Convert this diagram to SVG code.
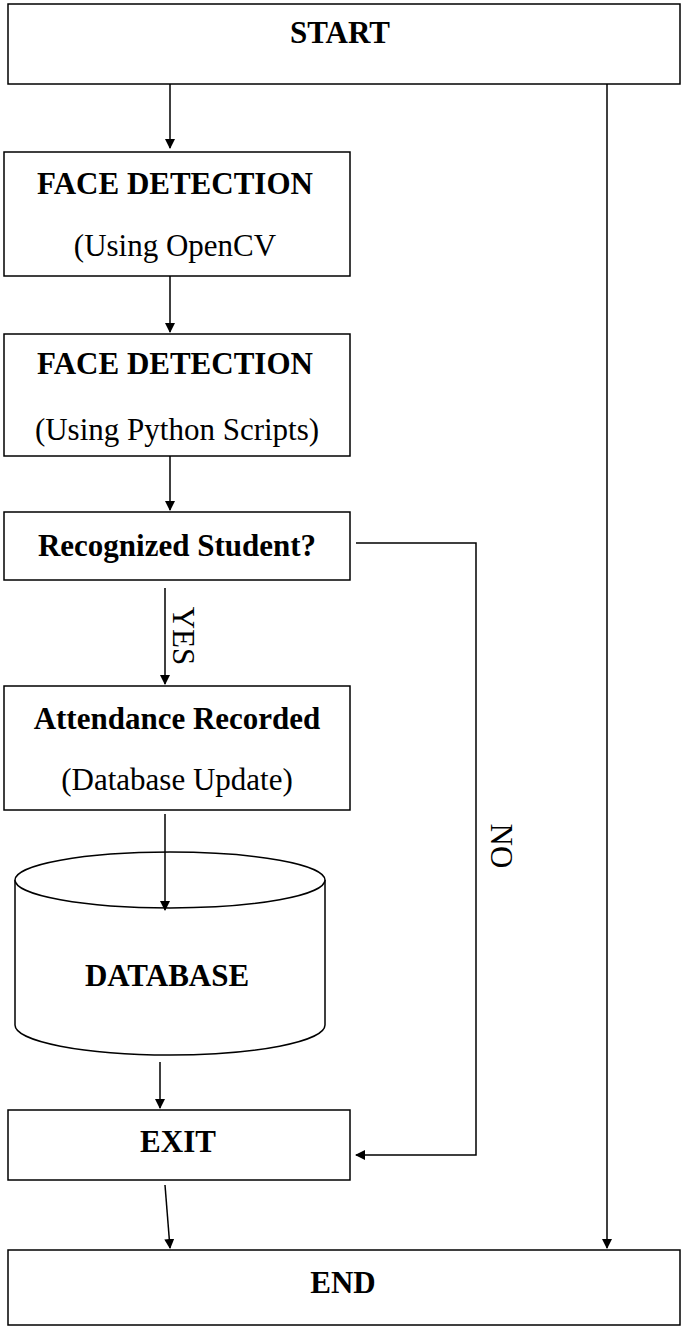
<svg xmlns="http://www.w3.org/2000/svg" width="685" height="1336" viewBox="0 0 685 1336">
<style>
.b{fill:#fff;stroke:#000;stroke-width:1.5}
.t{font-family:"Liberation Serif",serif;font-size:31px;fill:#000;text-anchor:middle}
.h{font-weight:bold}
.c{fill:none;stroke:#000;stroke-width:1.5}
</style>
<defs><marker id="a" markerWidth="10" markerHeight="10" refX="9" refY="5" orient="auto" markerUnits="userSpaceOnUse"><path d="M0,0 L10,5 L0,10 z" fill="#000"/></marker></defs>
<rect width="685" height="1336" fill="#fff"/>
<g id="start"><rect class="b" x="8" y="4" width="672" height="80"/><text class="t h" x="340" y="43">START</text></g>
<g id="fd1"><rect class="b" x="4" y="152" width="346" height="124"/><text class="t h" x="175" y="194">FACE DETECTION</text><text class="t" x="175" y="256">(Using OpenCV</text></g>
<g id="fd2"><rect class="b" x="4" y="334" width="346" height="122"/><text class="t h" x="175" y="374">FACE DETECTION</text><text class="t" x="177" y="440">(Using Python Scripts)</text></g>
<g id="rec"><rect class="b" x="4" y="512" width="346" height="68"/><text class="t h" x="177" y="556">Recognized Student?</text></g>
<g id="att"><rect class="b" x="4" y="686" width="346" height="124"/><text class="t h" x="177" y="729">Attendance Recorded</text><text class="t" x="177" y="790">(Database Update)</text></g>
<g id="db"><path class="b" d="M15,880 V1025 A155,30 0 0 0 325,1025 V880"/><ellipse class="b" cx="170" cy="880" rx="155" ry="28"/><text class="t h" x="167" y="986">DATABASE</text></g>
<g id="exit"><rect class="b" x="8" y="1110" width="342" height="70"/><text class="t h" x="178" y="1152">EXIT</text></g>
<g id="end"><rect class="b" x="8" y="1250" width="672" height="75"/><text class="t h" x="343" y="1293">END</text></g>
<g id="connectors">
<path class="c" d="M170,84 V148" marker-end="url(#a)"/>
<path class="c" d="M170,276 V332" marker-end="url(#a)"/>
<path class="c" d="M170,456 V510" marker-end="url(#a)"/>
<path class="c" d="M165,588 V684" marker-end="url(#a)"/>
<path class="c" d="M165,814 V910" marker-end="url(#a)"/>
<path class="c" d="M160,1062 V1108" marker-end="url(#a)"/>
<path class="c" d="M165,1185 L170,1248" marker-end="url(#a)"/>
<path class="c" d="M356,543 H476 V1155 H356" marker-end="url(#a)"/>
<path class="c" d="M607,84 V1248" marker-end="url(#a)"/>
<text class="t" transform="translate(173,636) rotate(90)" font-size="24">YES</text>
<text class="t" transform="translate(491,846) rotate(90)" font-size="24">NO</text>
</g>
</svg>
